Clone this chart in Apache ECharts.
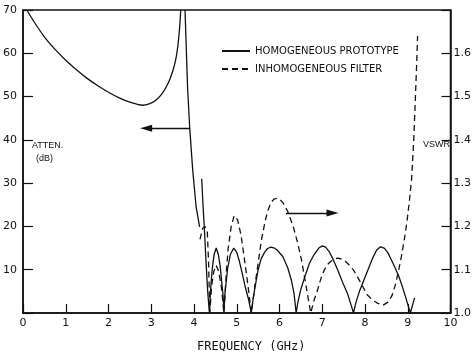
<!DOCTYPE html>
<html>
<head>
<meta charset="utf-8">
<script src="https://cdn.jsdelivr.net/npm/echarts@6/dist/echarts.min.js"></script>
<style>
html,body{margin:0;padding:0;background:#fff;}
#chart{width:474px;height:356px;}
</style>
</head>
<body>
<div id="chart"></div>
<script>
// Attenuation (dB, left axis) of homogeneous prototype - stopband branches
const attenBranch1 = [[0.09,70],[0.25,67.4],[0.5,63.8],[0.75,60.9],[1.0,58.4],[1.25,56.2],[1.5,54.2],[1.75,52.5],[2.0,51.0],[2.25,49.7],[2.5,48.7],[2.8,48.0],[2.95,48.3],[3.1,49.1],[3.25,50.6],[3.4,53.2],[3.5,55.8],[3.57,58.4],[3.62,61.5],[3.66,65.5],[3.69,70]];
const attenBranch2 = [[3.79,70],[3.85,52],[3.90,42.7],[3.97,33],[4.05,24.5],[4.13,19.9]];
// VSWR (right axis) of homogeneous prototype
const protoVswr = [[4.18,1.31],[4.21,1.25],[4.24,1.20],[4.28,1.12],[4.32,1.05],[4.36,1.0],
  [4.38,1.04],[4.40,1.07],[4.43,1.105],[4.47,1.135],[4.52,1.15],[4.57,1.135],[4.61,1.11],[4.65,1.07],[4.68,1.04],[4.70,1.0],
  [4.72,1.04],[4.75,1.07],[4.79,1.105],[4.85,1.135],[4.93,1.15],[5.0,1.14],[5.06,1.12],[5.12,1.095],[5.2,1.06],[5.28,1.03],[5.34,1.0],
  [5.38,1.03],[5.42,1.055],[5.50,1.10],[5.57,1.125],[5.65,1.14],[5.72,1.149],[5.8,1.152],[5.88,1.15],[5.95,1.145],[6.08,1.13],[6.19,1.105],[6.28,1.075],[6.34,1.045],[6.39,1.0],
  [6.43,1.025],[6.5,1.055],[6.58,1.08],[6.7,1.115],[6.81,1.135],[6.92,1.15],[7.0,1.155],[7.08,1.152],[7.16,1.142],[7.25,1.125],[7.36,1.10],[7.48,1.07],[7.59,1.045],[7.67,1.02],[7.73,1.0],
  [7.79,1.025],[7.87,1.05],[7.97,1.075],[8.07,1.10],[8.17,1.125],[8.27,1.145],[8.36,1.153],[8.45,1.15],[8.53,1.14],[8.62,1.122],[8.7,1.105],[8.79,1.085],[8.87,1.062],[8.94,1.04],[9.0,1.02],[9.06,1.0],[9.16,1.035]];
// VSWR (right axis) of inhomogeneous filter
const filterVswr = [[4.14,1.17],[4.2,1.195],[4.26,1.20],[4.31,1.19],[4.34,1.12],[4.36,1.04],[4.37,1.0],
  [4.41,1.06],[4.46,1.095],[4.52,1.11],[4.58,1.095],[4.64,1.06],[4.70,1.0],
  [4.73,1.05],[4.76,1.10],[4.8,1.15],[4.87,1.20],[4.94,1.225],[5.02,1.215],[5.1,1.18],[5.2,1.11],[5.28,1.05],[5.34,1.0],
  [5.42,1.06],[5.5,1.115],[5.58,1.17],[5.66,1.21],[5.72,1.235],[5.8,1.255],[5.87,1.263],[5.94,1.265],[6.01,1.262],[6.08,1.255],[6.19,1.235],[6.32,1.2],[6.43,1.16],[6.52,1.12],[6.59,1.08],[6.66,1.04],[6.73,1.0],
  [6.81,1.03],[6.89,1.053],[6.97,1.08],[7.05,1.10],[7.15,1.115],[7.25,1.123],[7.37,1.127],[7.5,1.123],[7.62,1.112],[7.74,1.098],[7.9,1.07],[8.05,1.042],[8.18,1.03],[8.3,1.022],[8.42,1.018],[8.54,1.025],[8.63,1.04],[8.71,1.065],[8.78,1.095],[8.85,1.13],[8.92,1.17],[8.98,1.21],[9.04,1.26],[9.09,1.31],[9.14,1.4],[9.18,1.5],[9.21,1.58],[9.23,1.64]];
// Annotation arrows (data units)
const leftArrow = [[3.90,42.7],[2.88,42.7]];
const rightArrow = [[6.15,1.231],[7.24,1.231]];
const legendNames = ['HOMOGENEOUS PROTOTYPE','INHOMOGENEOUS FILTER'];

const INK = '#111';
const chart = echarts.init(document.getElementById('chart'), null, {renderer:'canvas'});
const tickFont = {fontFamily:'DejaVu Sans', fontSize:11, color:INK};
const arrowML = (pts) => ({
  silent:true, animation:false,
  symbol:['none','triangle'], symbolSize:[7,12],
  label:{show:false},
  lineStyle:{color:INK, width:1.3, type:'solid'},
  emphasis:{disabled:true},
  data:[[{coord:pts[0]},{coord:pts[1]}]]
});
const lineBase = (name, data, yIdx, dashed, smooth) => ({
  name, type:'line', data, yAxisIndex:yIdx, symbol:'none', smooth,
  color:INK, itemStyle:{color:INK},
  lineStyle:{color:INK, width:1.3, type: dashed ? [6,4] : 'solid'},
  emphasis:{disabled:true}, animation:false
});
const s1 = lineBase(legendNames[0], attenBranch1, 0, false, 0.3);
s1.markLine = arrowML(leftArrow);
const s2 = lineBase(legendNames[0], attenBranch2, 0, false, false);
const s3 = lineBase(legendNames[0], protoVswr, 1, false, false);
const s4 = lineBase(legendNames[1], filterVswr, 1, true, false);
s4.markLine = arrowML(rightArrow);

chart.setOption({
  backgroundColor:'#fff',
  animation:false,
  grid:{left:23, right:20, top:10, bottom:43, show:true, borderColor:INK, borderWidth:1.5, backgroundColor:'transparent'},
  legend:{
    data:legendNames, orient:'vertical', left:221, top:46, padding:0,
    itemWidth:28, itemHeight:10, itemGap:8, selectedMode:false,
    itemStyle:{opacity:0},
    textStyle:{fontFamily:'DejaVu Sans', fontSize:10, color:INK}
  },
  xAxis:{
    type:'value', min:0, max:10, interval:1,
    axisLine:{show:true, lineStyle:{color:INK, width:1.5}},
    axisTick:{show:true, inside:true, length:9, lineStyle:{color:INK, width:1.2}},
    axisLabel:Object.assign({margin:5}, tickFont),
    splitLine:{show:false}
  },
  yAxis:[{
    type:'value', min:0, max:70, interval:10, position:'left',
    axisLine:{show:true, lineStyle:{color:INK, width:1.5}},
    axisTick:{show:true, inside:true, length:10, lineStyle:{color:INK, width:1.2}},
    axisLabel:Object.assign({margin:6, formatter:v => v === 0 ? '' : String(v)}, tickFont),
    splitLine:{show:false}
  },{
    type:'value', min:1.0, max:1.7, interval:0.1, position:'right',
    axisLine:{show:true, lineStyle:{color:INK, width:1.5}},
    axisTick:{show:true, inside:true, length:9, lineStyle:{color:INK, width:1.2}},
    axisLabel:Object.assign({margin:3, formatter:v => v > 1.65 ? '' : v.toFixed(1)}, tickFont),
    splitLine:{show:false}
  }],
  graphic:[
    {type:'text', left:32, top:141, style:{text:'ATTEN.', font:'9px "Liberation Sans"', fill:INK}},
    {type:'text', left:36, top:154, style:{text:'(dB)', font:'9px "Liberation Sans"', fill:INK}},
    {type:'text', left:423, top:140, style:{text:'VSWR', font:'9px "Liberation Sans"', fill:INK}},
    {type:'text', left:197, top:341, style:{text:'FREQUENCY (GHz)', font:'12px "DejaVu Sans Mono"', fill:INK}}
  ],
  series:[s1, s2, s3, s4]
});
</script>
</body>
</html>
